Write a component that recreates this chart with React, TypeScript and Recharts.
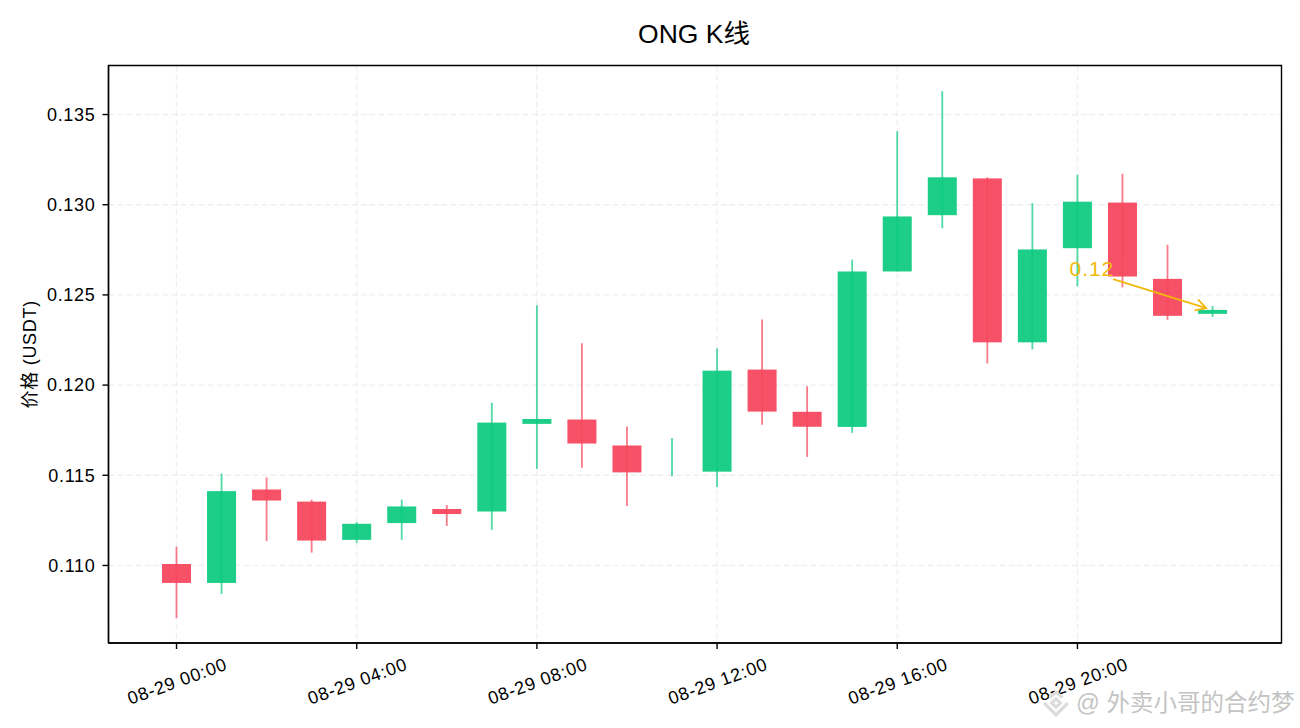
import React from "react";
import {
  ComposedChart,
  Bar,
  XAxis,
  YAxis,
  CartesianGrid,
  ReferenceArea,
  ReferenceLine,
  ReferenceDot,
} from "recharts";

const hours = [0, 1, 2, 3, 4, 5, 6, 7, 8, 9, 10, 11, 12, 13, 14, 15, 16, 17, 18, 19, 20, 21, 22, 23];
const opens = [
  0.11008, 0.10903, 0.11421, 0.11354, 0.11142, 0.11235, 0.11313, 0.11299, 0.11785, 0.11809, 0.11665, 0.11495,
  0.1152, 0.12086, 0.11852, 0.11768, 0.1263, 0.12942, 0.13146, 0.12237, 0.12759, 0.13012, 0.12589, 0.12395,
];
const closes = [
  0.10903, 0.11412, 0.11360, 0.11138, 0.11231, 0.11327, 0.11285, 0.11792, 0.11812, 0.11676, 0.11516, 0.11495,
  0.12080, 0.11853, 0.11769, 0.1263, 0.12935, 0.13152, 0.12237, 0.12752, 0.13017, 0.12602, 0.12384, 0.12417,
];
const highs = [
  0.11103, 0.11510, 0.11488, 0.11365, 0.11241, 0.11365, 0.11335, 0.11902, 0.12443, 0.12232, 0.11770, 0.11706,
  0.12203, 0.12364, 0.11994, 0.12696, 0.13408, 0.13629, 0.13152, 0.13008, 0.13166, 0.13172, 0.12778, 0.12439,
];
const lows = [
  0.10709, 0.10841, 0.11135, 0.11071, 0.11125, 0.11142, 0.11219, 0.11197, 0.11535, 0.11541, 0.11330, 0.11495,
  0.11435, 0.11780, 0.11602, 0.11735, 0.1263, 0.12870, 0.12120, 0.12198, 0.12548, 0.12542, 0.12362, 0.12378,
];
const xTicks = [0, 4, 8, 12, 16, 20];
const xTickLabels = ["08-29 00:00", "08-29 04:00", "08-29 08:00", "08-29 12:00", "08-29 16:00", "08-29 20:00"];
const yTicks = [0.11, 0.115, 0.12, 0.125, 0.13, 0.135];
const xDomain = [-1.51, 24.53];
const yDomain = [0.1057, 0.13772];

const FONT = "'Liberation Sans', 'Noto Sans CJK SC', sans-serif";
const GREEN = "#0ecb81";
const RED = "#f6465d";
const ORANGE = "#f0b90b";

const candleData = hours.map((hour, i) => ({
  hour,
  open: opens[i],
  close: closes[i],
  range: [lows[i], highs[i]],
}));

// the bar spans low..high, the body is worked out from that span
function Candle(props: any) {
  const { x, y, width, height, payload } = props;
  const [low, high] = payload.range;
  const perUnit = height / (high - low);
  const top = y + (high - Math.max(payload.open, payload.close)) * perUnit;
  const bodyHeight = Math.abs(payload.open - payload.close) * perUnit;
  const color = payload.close >= payload.open ? GREEN : RED;
  const cx = x + width / 2;
  return (
    <g>
      {bodyHeight > 0 && (
        <rect x={x} y={top} width={width} height={bodyHeight} fill={color} fillOpacity={0.94} />
      )}
      <line x1={cx} x2={cx} y1={y} y2={y + height} stroke={color} strokeWidth={1.8} strokeOpacity={0.72} />
    </g>
  );
}

function Arrow(props: any) {
  const { x1, y1, x2, y2 } = props;
  const angle = Math.atan2(y2 - y1, x2 - x1);
  const head = (a: number) => `${x2 - 12 * Math.cos(angle + a)},${y2 - 12 * Math.sin(angle + a)}`;
  return (
    <g fill="none" stroke={ORANGE} strokeWidth={1.8}>
      <line x1={x1} y1={y1} x2={x2} y2={y2} />
      <polyline points={`${head(0.5)} ${x2},${y2} ${head(-0.5)}`} />
    </g>
  );
}

export default function App() {
  return (
    <div style={{ position: "absolute", left: 0, top: 0, width: 1300, height: 728, background: "#fff", fontFamily: FONT }}>
      <div style={{ position: "absolute", left: 0, width: 1388, top: 16, textAlign: "center", fontSize: 26.5, lineHeight: "36px", color: "#000" }}>
        ONG K线
      </div>
      <ComposedChart
        width={1300}
        height={728}
        data={candleData}
        margin={{ top: 65.5, right: 18.5, bottom: 0, left: 0.5 }}
      >
        <CartesianGrid stroke="#e4e4e4" strokeOpacity={0.6} strokeDasharray="6 3" strokeWidth={1.3} />
        <XAxis
          dataKey="hour"
          type="number"
          domain={xDomain}
          ticks={xTicks}
          interval={0}
          allowDataOverflow
          height={85}
          tickFormatter={(v: number) => xTickLabels[xTicks.indexOf(v)]}
          axisLine={{ stroke: "#000", strokeWidth: 1.4 }}
          tickLine={{ stroke: "#000", strokeWidth: 1.4 }}
          tickSize={6}
          angle={-20}
          textAnchor="middle"
          tickMargin={26}
          dx={-1.5}
          tick={{ fill: "#000", fontSize: 18, fontFamily: FONT, letterSpacing: 0.75 }}
        />
        <YAxis
          type="number"
          domain={yDomain}
          ticks={yTicks}
          interval={0}
          allowDataOverflow
          width={108}
          tickFormatter={(v: number) => v.toFixed(3)}
          axisLine={{ stroke: "#000", strokeWidth: 1.4 }}
          tickLine={{ stroke: "#000", strokeWidth: 1.4 }}
          tickSize={6}
          tickMargin={7}
          tick={{ fill: "#000", fontSize: 18, fontFamily: FONT, letterSpacing: 0.7 }}
          label={{ value: "价格 (USDT)", angle: -90, position: "insideLeft", offset: 29, style: { fill: "#000", fontSize: 18, letterSpacing: 0.7, textAnchor: "middle", fontFamily: FONT } }}
        />
        <Bar dataKey="range" barSize={29} shape={Candle} isAnimationActive={false} />
        <ReferenceLine
          segment={[{ x: 20.79, y: 0.12588 }, { x: 22.86, y: 0.12427 }]}
          shape={Arrow}
          ifOverflow="visible"
        />
        <ReferenceDot
          x={20.32}
          y={0.12644}
          r={0}
          ifOverflow="visible"
          label={{ value: "0.12", position: "center", fill: ORANGE, fontSize: 21, letterSpacing: 0.9, fontFamily: FONT }}
        />
        <ReferenceArea
          x1={xDomain[0]}
          x2={xDomain[1]}
          y1={yDomain[0]}
          y2={yDomain[1]}
          fill="none"
          stroke="#000"
          strokeWidth={1.4}
          fillOpacity={0}
        />
      </ComposedChart>
      <div style={{ position: "absolute", left: 1042, top: 688, display: "flex", alignItems: "center", whiteSpace: "nowrap", color: "#c4c4c4", fontSize: 23.5, lineHeight: "30px" }}>
        <svg width={28} height={28} viewBox="0 0 26 26" style={{ marginRight: 6 }}>
          <g fill="none" stroke="#dcdcdc" strokeWidth={3}>
            <path d="M7 8 L13 3 L19 8" />
            <path d="M2 13 L13 24 L24 13" />
            <path d="M9 13 L13 9 L17 13 L13 17 Z" />
          </g>
        </svg>
        @ 外卖小哥的合约梦
      </div>
    </div>
  );
}
